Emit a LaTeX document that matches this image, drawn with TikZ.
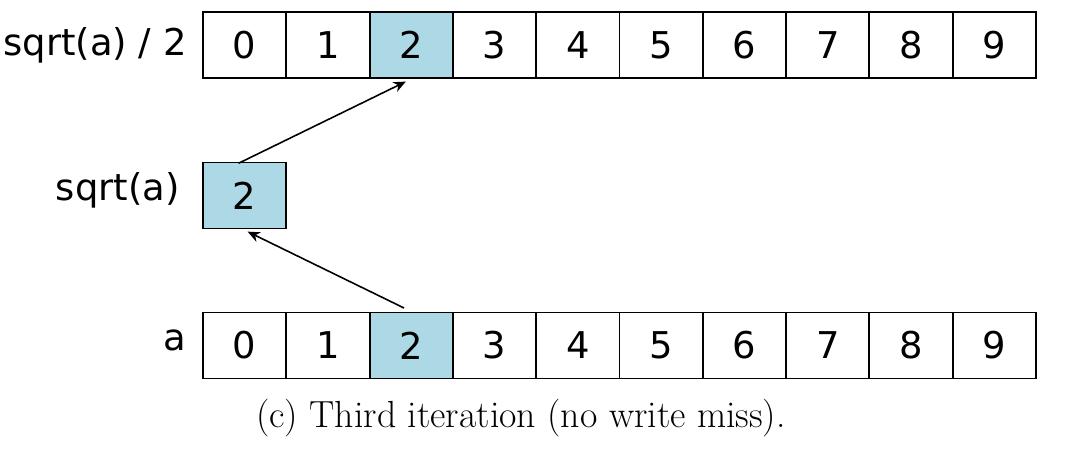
\documentclass[tikz,border=0pt]{standalone}
\usepackage{fontspec}
\newfontfamily\cellfont{DejaVu Sans}
\usetikzlibrary{arrows.meta,positioning,calc}
\definecolor{Hit}{HTML}{ADD8E6}

\begin{document}
\begin{tikzpicture}[
    cell/.style={draw, line width=1.1pt, minimum width=1.666cm, minimum height=1.32cm,
      inner sep=0pt, font={\cellfont\fontsize{21}{23}\selectfont}},
    hit/.style={cell, fill=Hit},
    rowlabel/.style={anchor=east, inner sep=0pt, font={\cellfont\fontsize{21}{23}\selectfont}},
    link/.style={-{Stealth[length=7pt,width=6pt]}, line width=0.9pt}
  ]
  \useasboundingbox (0,0) rectangle (21.3,-9.1);
  % top and bottom arrays
  \foreach \i in {0,...,9} {
    \ifnum\i=2 \def\sty{hit}\else\def\sty{cell}\fi
    \node[\sty] (top\i) at ({4.893+1.666*\i},-0.9) {\i};
    \node[\sty] (bot\i) at ({4.893+1.666*\i},-6.91) {\i};
  }
  \node[hit] (root) at (4.893,-3.91) {2};

  \node[rowlabel] (toplabel) at (3.74,-0.9) {sqrt(a) / 2};
  \node[rowlabel] (rootlabel) at (3.6,-3.8) {sqrt(a)};
  \node[rowlabel] (botlabel) at (3.72,-6.8) {a};

  \draw[link, shorten <=-0.08cm, shorten >=0.12cm] ($(root.north)+(-0.05,0)$) -- (top2.south);
  \draw[link, shorten <=0.16cm, shorten >=0.1cm] (bot2.north) -- ($(root.south)+(-0.03,0)$);

  \node[font={\fontsize{21.5}{24}\selectfont}] (caption) at (10.42,-8.36) {(c) Third iteration (no write miss).};
\end{tikzpicture}
\end{document}
